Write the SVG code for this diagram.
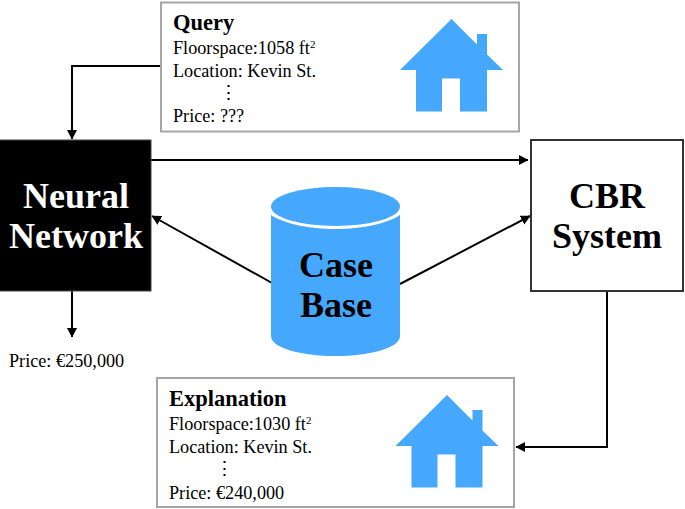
<svg xmlns="http://www.w3.org/2000/svg" width="685" height="509" viewBox="0 0 685 509">
<style>
text{font-family:"Liberation Serif","Times New Roman",serif;fill:#000}
.t{font-size:18.2px}
.h{font-size:22.500px;font-weight:bold}
.b{font-size:36px;font-weight:bold;text-anchor:middle}
.box{fill:#fff;stroke:#a6a6a6;stroke-width:2}
.house{fill:#45a8fc}
.c{fill:none;stroke:#000;stroke-width:2}
</style>
<defs>
<marker id="a" markerUnits="userSpaceOnUse" markerWidth="10" markerHeight="10" refX="9" refY="5" orient="auto"><path d="M0 0L9.500 5L0 10Z" fill="#000"/></marker>
<path id="hs" d="M151.500 19L177 44.500V34H187V54.500L203 70H187V111.500H160V78.500H142V111.500H116V70H100Z"/>
</defs>
<g id="connectors">
<path class="c" d="M161 66H72V139" marker-end="url(#a)"/>
<path class="c" d="M72 291V337" marker-end="url(#a)"/>
<path class="c" d="M151 160H528" marker-end="url(#a)"/>
<path class="c" d="M272 283L152 216" marker-end="url(#a)"/>
<path class="c" d="M400 284L530 216" marker-end="url(#a)"/>
<path class="c" d="M607 291V447H516" marker-end="url(#a)"/>
</g>
<g id="query">
<rect class="box" x="161" y="2.500" width="358" height="129"/>
<text class="h" x="173" y="30">Query</text>
<text class="t" x="173" y="54">Floorspace:1058 ft<tspan font-size="11" dy="-6">2</tspan></text>
<text class="t" x="173" y="77">Location: Kevin St.</text>
<text x="228" y="99" font-size="19" text-anchor="middle">⋮</text>
<text class="t" x="173" y="122">Price: ???</text>
<use href="#hs" class="house" transform="translate(300 0)"/>
</g>
<g id="neural-network">
<rect x="-1" y="140" width="152" height="151" fill="#000" stroke="#444"/>
<text class="b" x="76" y="208" style="fill:#fff">Neural</text>
<text class="b" x="76" y="248" style="fill:#fff">Network</text>
</g>
<g id="nn-output">
<text class="t" x="9" y="367">Price: €250,000</text>
</g>
<g id="case-base">
<ellipse class="house" cx="335.500" cy="206.500" rx="64.500" ry="19.500"/>
<path class="house" d="M271 215C285 224 310 229 335.500 229S386 224 400 215V336C400 348 370 356 335.500 356S271 348 271 336Z"/>
<text class="b" x="336" y="277">Case</text>
<text class="b" x="336" y="317">Base</text>
</g>
<g id="cbr-system">
<rect x="531" y="140" width="152" height="151" fill="#fff" stroke="#333" stroke-width="2"/>
<text class="b" x="607" y="208">CBR</text>
<text class="b" x="607" y="248">System</text>
</g>
<g id="explanation">
<rect class="box" x="157" y="378" width="357" height="129"/>
<text class="h" x="169" y="406">Explanation</text>
<text class="t" x="169" y="430">Floorspace:1030 ft<tspan font-size="11" dy="-6">2</tspan></text>
<text class="t" x="169" y="453">Location: Kevin St.</text>
<text x="224" y="475" font-size="19" text-anchor="middle">⋮</text>
<text class="t" x="169" y="499">Price: €240,000</text>
<use href="#hs" class="house" transform="translate(295.500 376)"/>
</g>
</svg>
